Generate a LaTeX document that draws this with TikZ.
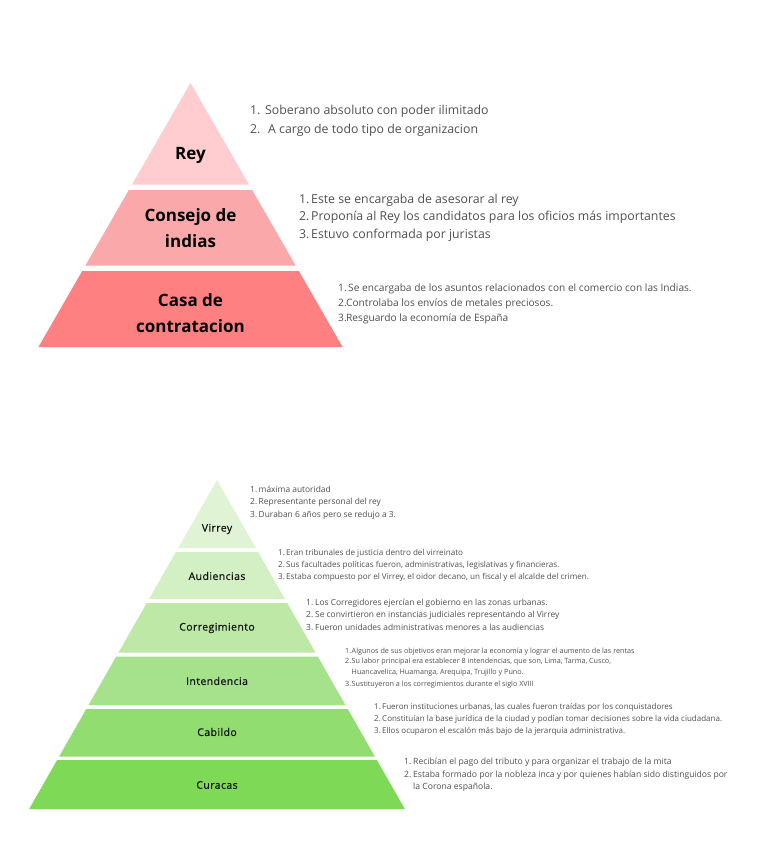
\documentclass[tikz,border=0pt]{standalone}
\usepackage{fontspec}
\setmainfont{Open Sans}
\definecolor{creya}{RGB}{255,204,207}
\definecolor{cconsejo}{RGB}{250,168,170}
\definecolor{ccasa}{RGB}{255,128,128}
\definecolor{cvirrey}{RGB}{224,244,213}
\definecolor{caud}{RGB}{211,240,196}
\definecolor{ccorr}{RGB}{189,232,166}
\definecolor{cint}{RGB}{166,226,140}
\definecolor{ccab}{RGB}{145,221,112}
\definecolor{ccur}{RGB}{126,217,87}
\definecolor{txtgray}{RGB}{80,80,80}
\definecolor{labdark}{RGB}{20,20,20}
\newcommand\pband[6]{%
  \pgfmathsetmacro\hA{#3*(#4-#2)}%
  \pgfmathsetmacro\hB{#3*(#5-#2)}%
  \fill[#6] ({#1-\hA},#4) -- ({#1+\hA},#4) -- ({#1+\hB},#5) -- ({#1-\hB},#5) -- cycle;}
\newcommand\nb[2]{\makebox[#1][l]{#2}}
\tikzset{
  li/.style={anchor=west,inner sep=0pt,text=txtgray},
  biglab/.style={align=center,inner sep=0pt,text=black,font=\bfseries\fontsize{17}{26}\selectfont},
  smalllab/.style={inner sep=0pt,text=labdark,font=\fontsize{10.5}{12}\selectfont\addfontfeature{LetterSpace=4,FakeBold=0.6}},
}
\begin{document}
\begin{tikzpicture}[x=1pt,y=-1pt]
\useasboundingbox (0,0) rectangle (768,862);
\fill[white] (0,0) rectangle (768,862);
% top pyramid
\pband{190.5}{83}{0.576}{83}{184.5}{creya}
\pband{190.5}{83}{0.576}{190}{265.5}{cconsejo}
\pband{190.5}{83}{0.576}{271}{347}{ccasa}
\node[biglab] (rey) at (190.5,155) {Rey};
\node[biglab] (consejo) at (190.5,228) {Consejo de\\indias};
\node[biglab] (casa) at (190.5,313) {Casa de\\contratacion};
% top lists
\begin{scope}[every node/.append style={font=\fontsize{12.3}{14}\selectfont}]
\node[li] (r1) at (250,111) {\nb{15pt}{1.}Soberano absoluto con poder ilimitado};
\node[li] (r2) at (250,130) {\nb{18pt}{2.}A cargo de todo tipo de organizacion};
\node[li] (c1) at (299,200) {\nb{12pt}{1.}Este se encargaba de asesorar al rey};
\node[li] (c2) at (299,217) {\nb{12pt}{2.}Proponía al Rey los candidatos para los oficios más importantes};
\node[li] (c3) at (299,235) {\nb{12pt}{3.}Estuvo conformada por juristas};
\end{scope}
\begin{scope}[every node/.append style={font=\fontsize{10.15}{11}\selectfont}]
\node[li] (k1) at (338,289) {\nb{10pt}{1.}Se encargaba de los asuntos relacionados con el comercio con las Indias.};
\node[li] (k2) at (338,304) {\nb{8pt}{2.}Controlaba los envíos de metales preciosos.};
\node[li] (k3) at (338,319) {\nb{8pt}{3.}Resguardo la economía de España};
\end{scope}
% bottom pyramid
\pband{217}{480}{0.571}{480}{548}{cvirrey}
\pband{217}{480}{0.571}{552}{599}{caud}
\pband{217}{480}{0.571}{603}{652.5}{ccorr}
\pband{217}{480}{0.571}{656.5}{705}{cint}
\pband{217}{480}{0.571}{709}{756.5}{ccab}
\pband{217}{480}{0.571}{760}{809}{ccur}
\node[smalllab] (virrey) at (217,529) {Virrey};
\node[smalllab] (aud) at (217,576) {Audiencias};
\node[smalllab] (corr) at (217,628) {Corregimiento};
\node[smalllab] (inten) at (217,681) {Intendencia};
\node[smalllab] (cab) at (217,732) {Cabildo};
\node[smalllab] (cur) at (217,785) {Curacas};
% bottom lists
\begin{scope}[every node/.append style={font=\fontsize{8.4}{9}\selectfont}]
\node[li] (v1) at (250,489) {\nb{8.5pt}{1.}máxima autoridad};
\node[li] (v2) at (250,502) {\nb{8.5pt}{2.}Representante personal del rey};
\node[li] (v3) at (250,515) {\nb{8.5pt}{3.}Duraban 6 años pero se redujo a 3.};
\end{scope}
\begin{scope}[every node/.append style={font=\fontsize{8.1}{9}\selectfont}]
\node[li] (a1) at (278,553) {\nb{8pt}{1.}Eran tribunales de justicia dentro del virreinato};
\node[li] (a2) at (278,565) {\nb{8pt}{2.}Sus facultades políticas fueron, administrativas, legislativas y financieras.};
\node[li] (a3) at (278,577) {\nb{8pt}{3.}Estaba compuesto por el Virrey, el oidor decano, un fiscal y el alcalde del crimen.};
\end{scope}
\begin{scope}[every node/.append style={font=\fontsize{8.4}{9}\selectfont}]
\node[li] (g1) at (306,603) {\nb{9pt}{1.}Los Corregidores ejercían el gobierno en las zonas urbanas.};
\node[li] (g2) at (306,615) {\nb{9pt}{2.}Se convirtieron en instancias judiciales representando al Virrey};
\node[li] (g3) at (306,627) {\nb{9pt}{3.}Fueron unidades administrativas menores a las audiencias};
\end{scope}
\begin{scope}[every node/.append style={font=\fontsize{7.2}{8}\selectfont}]
\node[li] (i1) at (345,652) {\nb{6.5pt}{1.}Algunos de sus objetivos eran mejorar la economía y lograr el aumento de las rentas};
\node[li] (i2) at (345,662) {\nb{6.5pt}{2.}Su labor principal era establecer 8 intendencias, que son, Lima, Tarma, Cusco,};
\node[li] (i2b) at (351.5,673) {Huancavelica, Huamanga, Arequipa, Trujillo y Puno.};
\node[li] (i3) at (345,685) {\nb{6.5pt}{3.}Sustituyeron a los corregimientos durante el siglo XVIII};
\end{scope}
\begin{scope}[every node/.append style={font=\fontsize{8}{9}\selectfont}]
\node[li] (b1) at (374,707) {\nb{8pt}{1.}Fueron instituciones urbanas, las cuales fueron traídas por los conquistadores};
\node[li] (b2) at (374,719) {\nb{8pt}{2.}Constituían la base jurídica de la ciudad y podían tomar decisiones sobre la vida ciudadana.};
\node[li] (b3) at (374,731) {\nb{8pt}{3.}Ellos ocuparon el escalón más bajo de la jerarquía administrativa.};
\end{scope}
\begin{scope}[every node/.append style={font=\fontsize{8.6}{9}\selectfont}]
\node[li] (u1) at (404,762) {\nb{9pt}{1.}Recibían el pago del tributo y para organizar el trabajo de la mita};
\node[li] (u2) at (404,775) {\nb{9pt}{2.}Estaba formado por la nobleza inca y por quienes habían sido distinguidos por};
\node[li] (u2b) at (413,787) {la Corona española.};
\end{scope}
\end{tikzpicture}
\end{document}
